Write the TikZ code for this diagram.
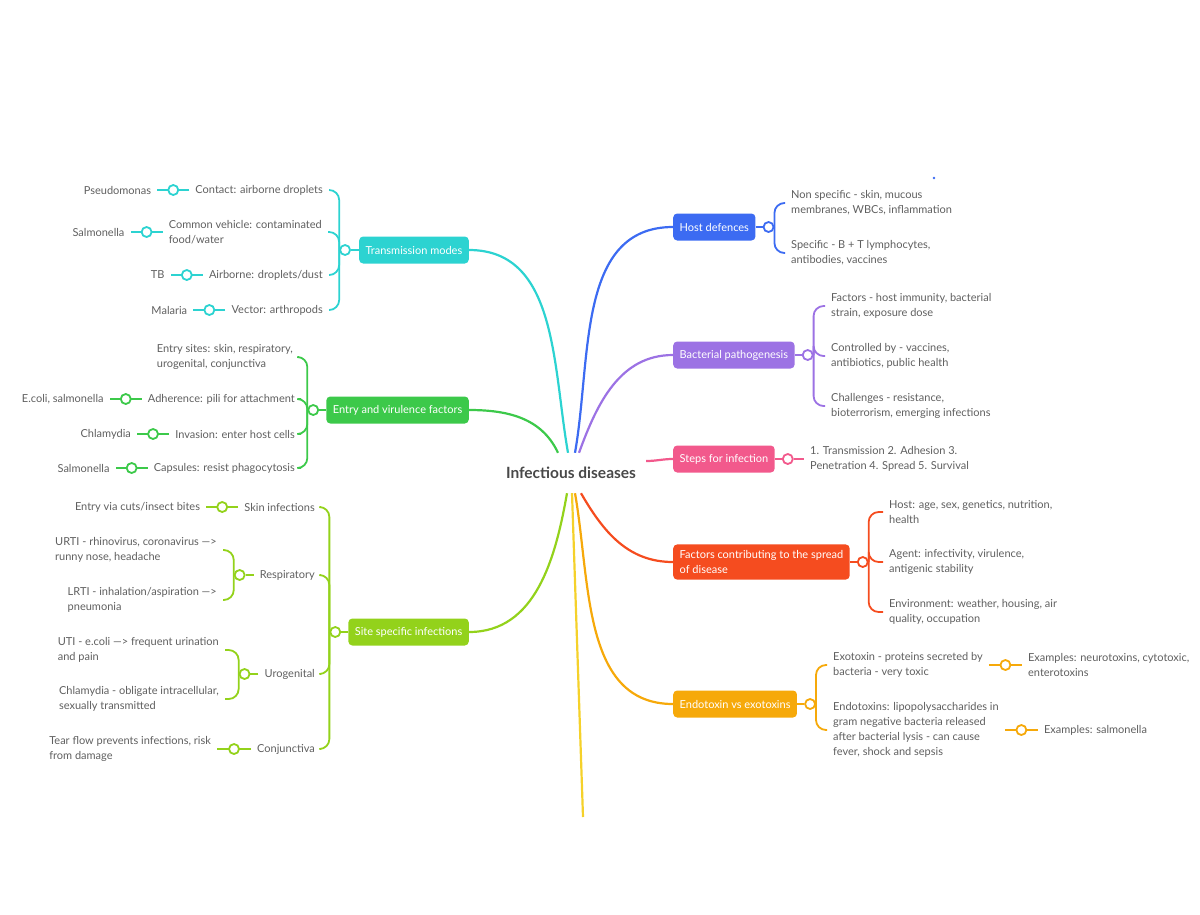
\documentclass[tikz,border=0pt]{standalone}
\usepackage{fontspec}
\setmainfont{Lato}
\usepackage{xcolor}
\usetikzlibrary{positioning}

\definecolor{cyanC}{HTML}{2CD3D1}
\definecolor{greenC}{HTML}{3CC94A}
\definecolor{limeC}{HTML}{93D21B}
\definecolor{blueC}{HTML}{3C6BF2}
\definecolor{purpleC}{HTML}{9C72E4}
\definecolor{pinkC}{HTML}{F2598C}
\definecolor{redC}{HTML}{F54C1F}
\definecolor{amberC}{HTML}{F6A90A}
\definecolor{yellowC}{HTML}{F5D12A}
\definecolor{inkC}{HTML}{5F5F5F}
\definecolor{titleC}{HTML}{484848}

\begin{document}
\begin{tikzpicture}[
  x=1pt, y=-1pt,
  node distance=32pt,
  root/.style={font=\fontsize{15.5}{18}\selectfont\bfseries, text=titleC, minimum height=40pt, inner xsep=10pt},
  topic/.style={rounded corners=4pt, text=white, font=\fontsize{11}{15}\selectfont, align=left, minimum height=27pt, inner xsep=6.5pt, inner ysep=6pt},
  leaf/.style={text=inkC, font=\fontsize{11}{15}\selectfont, align=left, inner xsep=6pt, inner ysep=2pt},
  knob/.style={circle, draw=#1, fill=white, line width=1.8pt, minimum size=10pt, inner sep=0pt},
  stem/.style={line width=2.2pt},
  link/.style={line width=1.8pt},
  brace/.style={line width=1.8pt, rounded corners=10pt}
]
\useasboundingbox (0,0) rectangle (1200,914);

% centre
\node[root] (root) at (571,473) {Infectious diseases};

% main topics
\node[topic, fill=cyanC, anchor=east] (trans) at (469,250) {Transmission modes};
\node[topic, fill=greenC, anchor=east] (entry) at (469,410) {Entry and virulence factors};
\node[topic, fill=limeC, anchor=east] (site) at (469,632) {Site specific infections};
\node[topic, fill=blueC, anchor=west] (host) at (673,227) {Host defences};
\node[topic, fill=purpleC, anchor=west] (patho) at (673,355) {Bacterial pathogenesis};
\node[topic, fill=pinkC, anchor=west] (steps) at (673,459) {Steps for infection};
\node[topic, fill=redC, anchor=west] (spread) at (673,562) {Factors contributing to the spread\\of disease};
\node[topic, fill=amberC, anchor=west] (toxin) at (673,704) {Endotoxin vs exotoxins};
\coordinate (blank) at (583,817);

% knobs next to the topics
\node[knob=cyanC, left=8pt of trans] (transK) {};
\node[knob=greenC, left=7pt of entry] (entryK) {};
\node[knob=limeC, left=7pt of site] (siteK) {};
\node[knob=blueC, right=7pt of host] (hostK) {};
\node[knob=purpleC, right=7pt of patho] (pathoK) {};
\node[knob=pinkC, right=7pt of steps] (stepsK) {};
\node[knob=redC, right=7pt of spread] (spreadK) {};
\node[knob=amberC, right=7pt of toxin] (toxinK) {};

% transmission modes
\node[leaf, anchor=east] (contact) at (329,190) {Contact: airborne droplets};
\node[leaf, anchor=east] (vehicle) at (328,232) {Common vehicle: contaminated\\food/water};
\node[leaf, anchor=east] (airborne) at (329,275) {Airborne: droplets/dust};
\node[leaf, anchor=east] (vector) at (329,310) {Vector: arthropods};
\node[leaf, left=of contact] (pseudo) {Pseudomonas};
\node[leaf, left=of vehicle] (salmo1) {Salmonella};
\node[leaf, left=of airborne] (tb) {TB};
\node[leaf, left=of vector] (malaria) {Malaria};

% entry and virulence
\node[leaf, anchor=east] (sites) at (299,357) {Entry sites: skin, respiratory,\\urogenital, conjunctiva};
\node[leaf, anchor=east] (adhere) at (301,399) {Adherence: pili for attachment};
\node[leaf, anchor=east] (invade) at (301,434) {Invasion: enter host cells};
\node[leaf, anchor=east] (capsule) at (301,468) {Capsules: resist phagocytosis};
\node[leaf, left=of adhere] (ecoli) {E.coli, salmonella};
\node[leaf, left=of invade] (chlam1) {Chlamydia};
\node[leaf, left=of capsule] (salmo2) {Salmonella};

% site specific
\node[leaf, anchor=east] (skin) at (321,507) {Skin infections};
\node[leaf, anchor=east] (resp) at (321,575) {Respiratory};
\node[leaf, anchor=east] (uro) at (321,674) {Urogenital};
\node[leaf, anchor=east] (conj) at (321,749) {Conjunctiva};
\node[leaf, left=of skin] (cuts) {Entry via cuts/insect bites};
\node[leaf, left=34pt of conj] (tear) {Tear flow prevents infections, risk\\from damage};
\node[knob=limeC, left=8pt of resp] (respK) {};
\node[knob=limeC, left=8pt of uro] (uroK) {};
\node[leaf, anchor=east] (urti) at (223,550) {URTI - rhinovirus, coronavirus —>\\runny nose, headache};
\node[leaf, anchor=east] (lrti) at (223,600) {LRTI - inhalation/aspiration —>\\pneumonia};
\node[leaf, anchor=east] (uti) at (225,650) {UTI - e.coli —> frequent urination\\and pain};
\node[leaf, anchor=east] (chlam2) at (225,699) {Chlamydia - obligate intracellular,\\sexually transmitted};

% host defences
\node[leaf, anchor=west] (nonspec) at (785,203) {Non specific - skin, mucous\\membranes, WBCs, inflammation};
\node[leaf, anchor=west] (spec) at (785,253) {Specific - B + T lymphocytes,\\antibodies, vaccines};

% bacterial pathogenesis
\node[leaf, anchor=west] (factors) at (825,306) {Factors - host immunity, bacterial\\strain, exposure dose};
\node[leaf, anchor=west] (control) at (825,356) {Controlled by - vaccines,\\antibiotics, public health};
\node[leaf, anchor=west] (challenge) at (825,406) {Challenges - resistance,\\bioterrorism, emerging infections};

% steps
\node[leaf, anchor=west] (order) at (804,459) {1. Transmission 2. Adhesion 3.\\Penetration 4. Spread 5. Survival};

% spread of disease
\node[leaf, anchor=west] (hostF) at (883,512) {Host: age, sex, genetics, nutrition,\\health};
\node[leaf, anchor=west] (agentF) at (883,562) {Agent: infectivity, virulence,\\antigenic stability};
\node[leaf, anchor=west] (envF) at (883,612) {Environment: weather, housing, air\\quality, occupation};

% toxins
\node[leaf, anchor=west] (exo) at (827,665) {Exotoxin - proteins secreted by\\bacteria - very toxic};
\node[leaf, anchor=west] (endo) at (827,730) {Endotoxins: lipopolysaccharides in\\gram negative bacteria released\\after bacterial lysis - can cause\\fever, shock and sepsis};
\node[leaf, right=33pt of exo] (exoEx) {Examples: neurotoxins, cytotoxic,\\enterotoxins};
\node[leaf, right=33pt of endo] (endoEx) {Examples: salmonella};

% stems from the centre
\draw[stem, cyanC] ([xshift=-3pt]root.north) to[out=100,in=0] (trans.east);
\draw[stem, greenC] ([xshift=-13pt]root.north) to[out=115,in=0] (entry.east);
\draw[stem, blueC] ([xshift=4pt]root.north) to[out=80,in=180] (host.west);
\draw[stem, purpleC] ([xshift=8pt]root.north) to[out=70,in=180] (patho.west);
\draw[stem, pinkC] ([yshift=12pt]root.east) to[out=0,in=180] (steps.west);
\draw[stem, limeC] ([xshift=-4pt]root.south) to[out=-100,in=0] (site.east);
\draw[stem, yellowC] ([xshift=1pt]root.south) -- (blank);
\draw[stem, amberC] ([xshift=4pt]root.south) to[out=-80,in=180] (toxin.west);
\draw[stem, redC] ([xshift=10pt]root.south) to[out=-60,in=180] (spread.west);

% topic to knob
\draw[link, cyanC] (trans) -- (transK);
\draw[link, greenC] (entry) -- (entryK);
\draw[link, limeC] (site) -- (siteK);
\draw[link, blueC] (host) -- (hostK);
\draw[link, purpleC] (patho) -- (pathoK);
\draw[link, pinkC] (steps) -- (stepsK);
\draw[link, redC] (spread) -- (spreadK);
\draw[link, amberC] (toxin) -- (toxinK);

% braces
\draw[brace, cyanC] (transK.west) |- (contact.east);
\draw[brace, cyanC] (transK.west) |- (vehicle.east);
\draw[brace, cyanC] (transK.west) |- (airborne.east);
\draw[brace, cyanC] (transK.west) |- (vector.east);
\draw[brace, greenC] (entryK.west) |- (sites.east);
\draw[brace, greenC] (entryK.west) |- (adhere.east);
\draw[brace, greenC] (entryK.west) |- (invade.east);
\draw[brace, greenC] (entryK.west) |- (capsule.east);
\draw[brace, limeC] (siteK.west) |- (skin.east);
\draw[brace, limeC] (siteK.west) |- (resp.east);
\draw[brace, limeC] (siteK.west) |- (uro.east);
\draw[brace, limeC] (siteK.west) |- (conj.east);
\draw[link, limeC] (resp) -- (respK);
\draw[link, limeC] (uro) -- (uroK);
\draw[brace, limeC] (respK.west) |- (urti.east);
\draw[brace, limeC] (respK.west) |- (lrti.east);
\draw[brace, limeC] (uroK.west) |- (uti.east);
\draw[brace, limeC] (uroK.west) |- (chlam2.east);
\draw[brace, blueC] (hostK.east) |- (nonspec.west);
\draw[brace, blueC] (hostK.east) |- (spec.west);
\draw[brace, purpleC] (pathoK.east) |- (factors.west);
\draw[brace, purpleC] (pathoK.east) |- (control.west);
\draw[brace, purpleC] (pathoK.east) |- (challenge.west);
\draw[link, pinkC] (stepsK) -- (order);
\draw[brace, redC] (spreadK.east) |- (hostF.west);
\draw[brace, redC] (spreadK.east) |- (agentF.west);
\draw[brace, redC] (spreadK.east) |- (envF.west);
\draw[brace, amberC] (toxinK.east) |- (exo.west);
\draw[brace, amberC] (toxinK.east) |- (endo.west);

% leaves with a knob between
\draw[link, cyanC] (contact) -- node[knob=cyanC] {} (pseudo);
\draw[link, cyanC] (vehicle) -- node[knob=cyanC] {} (salmo1);
\draw[link, cyanC] (airborne) -- node[knob=cyanC] {} (tb);
\draw[link, cyanC] (vector) -- node[knob=cyanC] {} (malaria);
\draw[link, greenC] (adhere) -- node[knob=greenC] {} (ecoli);
\draw[link, greenC] (invade) -- node[knob=greenC] {} (chlam1);
\draw[link, greenC] (capsule) -- node[knob=greenC] {} (salmo2);
\draw[link, limeC] (skin) -- node[knob=limeC] {} (cuts);
\draw[link, limeC] (conj) -- node[knob=limeC] {} (tear);
\draw[link, amberC] (exo) -- node[knob=amberC] {} (exoEx);
\draw[link, amberC] (endo) -- node[knob=amberC] {} (endoEx);

\fill[blueC] (934,178) circle (1.3);
\end{tikzpicture}
\end{document}
